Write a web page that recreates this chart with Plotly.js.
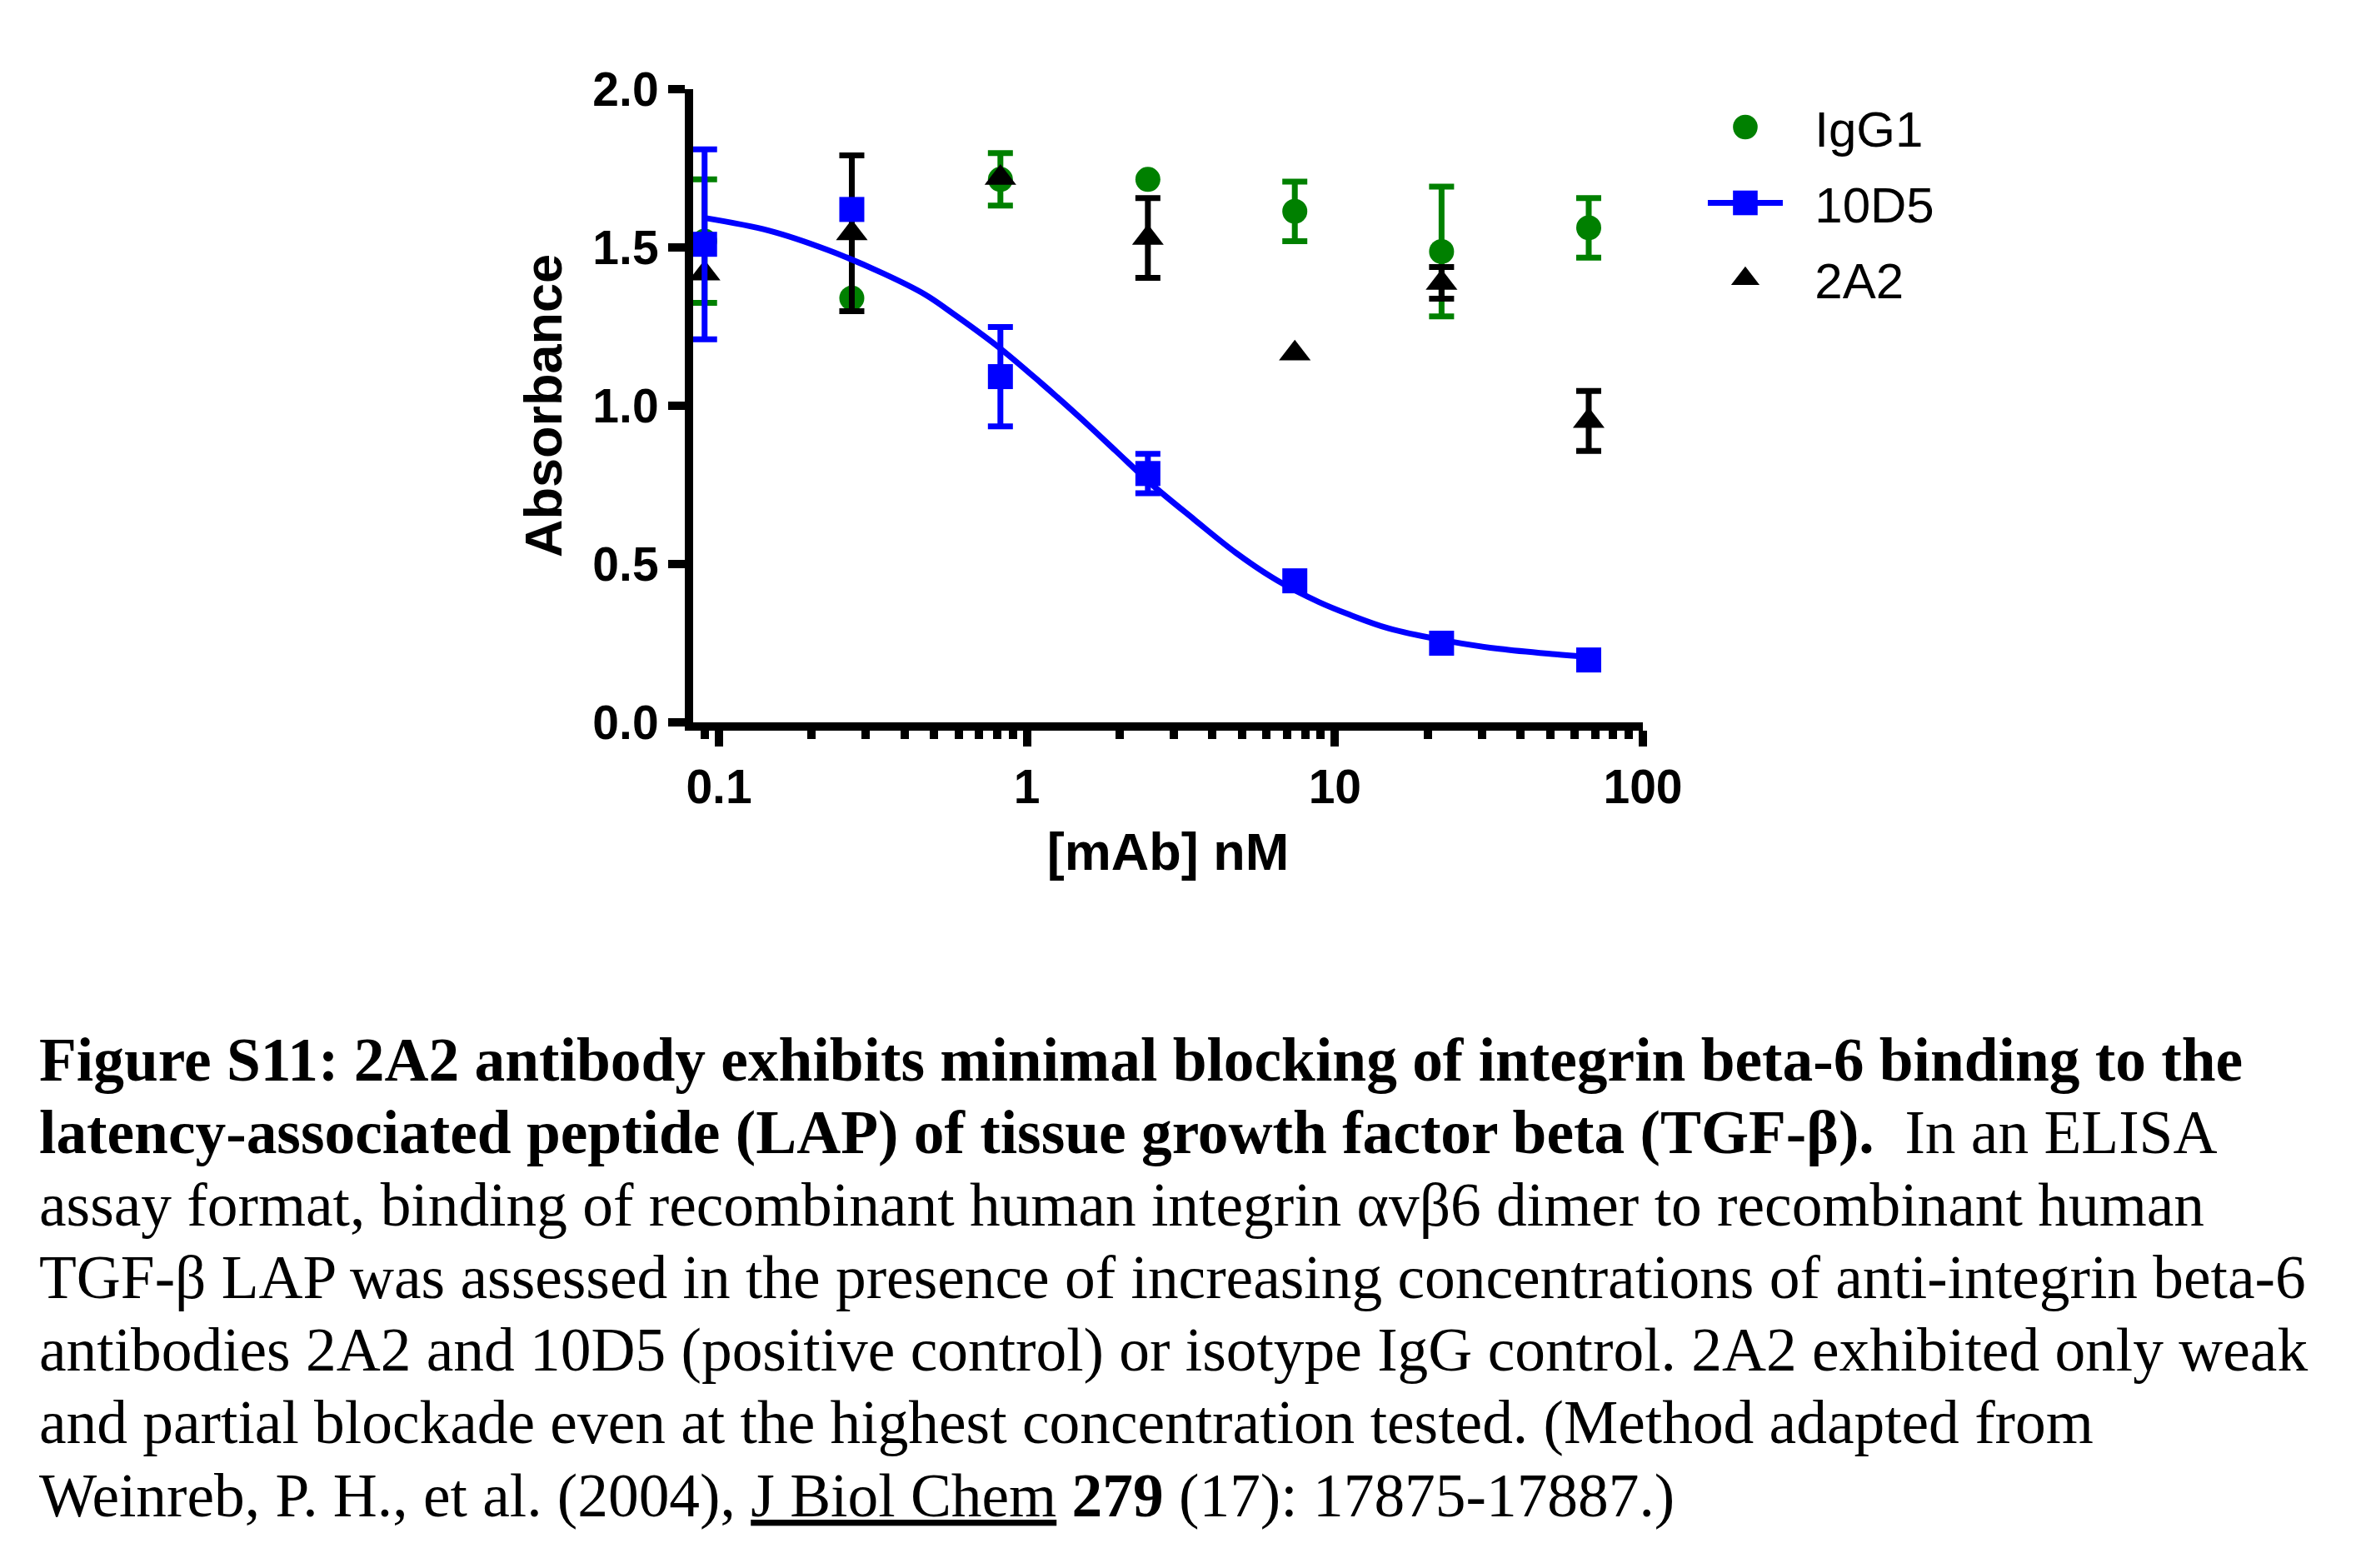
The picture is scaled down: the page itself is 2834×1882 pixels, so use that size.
<!DOCTYPE html>
<html>
<head>
<meta charset="utf-8">
<script src="https://cdn.plot.ly/plotly-3.0.1.min.js"></script>
<style>body { margin: 0; background: #fff; }</style>
</head>
<body>
<div id="chart" style="width:2834px;height:1882px"></div>
<script>
// concentrations of mAb, nM
const conc = [0.0898, 0.27, 0.82, 2.47, 7.41, 22.2, 66.7];

// mean absorbance and error per antibody (null = bar hidden behind the symbol)
const igg1 = [1.52, 1.34, 1.715, 1.715, 1.614, 1.487, 1.562];
const igg1Err = [0.195, null, 0.083, null, 0.094, 0.205, 0.094];
const d10d5 = [1.51, 1.62, 1.092, 0.786, 0.447, 0.25, 0.197];
const d10d5Err = [0.30, null, 0.157, 0.062, null, null, null];
const a2a2 = [1.418, 1.545, 1.72, 1.53, 1.165, 1.388, 0.952];
const a2a2Err = [null, 0.246, null, 0.126, null, 0.05, 0.095];

// fitted curve of 10D5
const fitX = [0.09, 0.1455, 0.2254, 0.3412, 0.4656, 0.5741, 0.80, 1.114, 1.489, 1.95, 2.553,
              3.491, 4.764, 6.501, 8.872, 11.17, 14.93, 22.59, 34.2, 51.88, 66.53];
const fitY = [1.593, 1.553, 1.492, 1.418, 1.352, 1.292, 1.189, 1.071, 0.962, 0.856, 0.750,
              0.641, 0.536, 0.448, 0.380, 0.340, 0.297, 0.259, 0.232, 0.215, 0.207];

const xTickVals = [0.1, 1, 10, 100];
const xTickText = ['0.1', '1', '10', '100'];

const captionLines = [
    '<b>Figure S11: 2A2 antibody exhibits minimal blocking of integrin beta-6 binding to the</b>',
    '<b>latency-associated peptide (LAP) of tissue growth factor beta (TGF-β).</b>\u00a0 In an ELISA',
    'assay format, binding of recombinant human integrin αvβ6 dimer to recombinant human',
    'TGF-β LAP was assessed in the presence of increasing concentrations of anti-integrin beta-6',
    'antibodies 2A2 and 10D5 (positive control) or isotype IgG control. 2A2 exhibited only weak',
    'and partial blockade even at the highest concentration tested. (Method adapted from',
    'Weinreb, P. H., et al. (2004), <u>J Biol Chem</u> <b>279</b> (17): 17875-17887.)'
];

const GREEN = '#008000';
const BLUE = '#0000ff';
const BLACK = '#000000';
const PAD = '\u00a0\u00a0'; // pushes legend text away from the symbols

// plotly reads null as a zero error and still draws the caps, NaN skips the bar
const errs = arr => arr.map(e => (e === null ? NaN : e));

// minor ticks 2..9 of every decade (and 0.08, 0.09 at the left)
const minorVals = [];
[0.01, 0.1, 1, 10].forEach(d => {
    for (let k = 2; k <= 9; k++) {
        const v = k * d;
        if (v >= 0.08 && v < 100) minorVals.push(v);
    }
});

// 10D5 points: gaps between them so the legend shows line + square but nothing connects
const gapX = [], gapY = [], gapE = [];
conc.forEach((c, i) => {
    gapX.push(c, null);
    gapY.push(d10d5[i], null);
    gapE.push(d10d5Err[i], null);
});

const traceIgg = {
    x: conc, y: igg1, name: PAD + 'IgG1', type: 'scatter', mode: 'markers',
    marker: { symbol: 'circle', size: 30, color: GREEN },
    error_y: { type: 'data', array: errs(igg1Err), visible: true, color: GREEN, thickness: 7, width: 15 },
    cliponaxis: false, legendrank: 1, legendgroup: 'g1'
};
const trace2a2 = {
    x: conc, y: a2a2, name: PAD + '2A2', type: 'scatter', mode: 'markers',
    marker: { symbol: 'triangle-up', size: 33, color: BLACK },
    error_y: { type: 'data', array: errs(a2a2Err), visible: true, color: BLACK, thickness: 7, width: 15 },
    cliponaxis: false, legendrank: 3, legendgroup: 'g3'
};
const traceFit = {
    x: fitX, y: fitY, type: 'scatter', mode: 'lines', showlegend: false,
    line: { color: BLUE, width: 7, shape: 'spline', smoothing: 1 },
    hoverinfo: 'skip', legendgroup: 'g2'
};
const trace10d5 = {
    x: gapX, y: gapY, name: PAD + '10D5', type: 'scatter', mode: 'lines+markers',
    connectgaps: false,
    line: { color: BLUE, width: 7 },
    marker: { symbol: 'square', size: 30, color: BLUE },
    error_y: { type: 'data', array: errs(gapE), visible: true, color: BLUE, thickness: 7, width: 15 },
    cliponaxis: false, legendrank: 2, legendgroup: 'g2'
};

const axisFont = { family: 'Liberation Sans, Arial, sans-serif', size: 57, color: BLACK, weight: 'bold' };
const titleFont = { family: 'Liberation Sans, Arial, sans-serif', size: 63, color: BLACK, weight: 'bold' };

// caption: one annotation per line, Word-like line spacing
const plotBottom = 867, plotTop = 107;
const annotations = captionLines.map((t, i) => ({
    text: t,
    xref: 'paper', yref: 'paper',
    x: (45 - 832) / 1140, xanchor: 'left',
    y: (plotBottom - (1272 + 87.2 * i)) / (plotBottom - plotTop), yanchor: 'middle',
    showarrow: false, align: 'left',
    font: { family: 'Liberation Serif, Times New Roman, serif', size: 73.4, color: BLACK }
}));

const layout = {
    width: 2834, height: 1882,
    margin: { l: 832, r: 862, t: plotTop, b: 1882 - plotBottom, pad: 0 },
    paper_bgcolor: '#fff', plot_bgcolor: '#fff',
    showlegend: true,
    legend: {
        x: 1.064, xanchor: 'left', y: 1.0, yanchor: 'top',
        traceorder: 'grouped', tracegroupgap: 10,
        font: { family: 'Liberation Sans, Arial, sans-serif', size: 60, color: BLACK },
        itemwidth: 90, bgcolor: 'rgba(0,0,0,0)'
    },
    xaxis: {
        type: 'log', range: [-1.0839, 2],
        showline: true, linewidth: 10, linecolor: BLACK,
        showgrid: false, zeroline: false,
        tickmode: 'array', tickvals: xTickVals, ticktext: xTickText,
        ticks: 'outside', ticklen: 19, tickwidth: 10, tickcolor: BLACK,
        tickfont: axisFont,
        minor: { tickmode: 'array', tickvals: minorVals, ticks: 'outside', ticklen: 10, tickwidth: 10, tickcolor: BLACK, showgrid: false },
        title: { text: '[mAb] nM', font: titleFont, standoff: 28 }
    },
    yaxis: {
        range: [0, 2], dtick: 0.5, tick0: 0, tickformat: '.1f',
        showline: true, linewidth: 10, linecolor: BLACK,
        showgrid: false, zeroline: false,
        ticks: 'outside', ticklen: 20, tickwidth: 10, tickcolor: BLACK,
        tickfont: axisFont,
        title: { text: 'Absorbance', font: titleFont, standoff: 20 }
    },
    annotations: annotations
};

Plotly.newPlot('chart', [traceIgg, trace2a2, traceFit, trace10d5], layout, { displayModeBar: false, staticPlot: true })
    .then(() => {
        // plotly caps legend symbols at 16px, the figure has them as big as the data symbols
        document.querySelectorAll('.legend path.scatterpts').forEach(p => {
            p.setAttribute('transform', (p.getAttribute('transform') || '') + ' scale(1.85)');
        });
    });
</script>
</body>
</html>
